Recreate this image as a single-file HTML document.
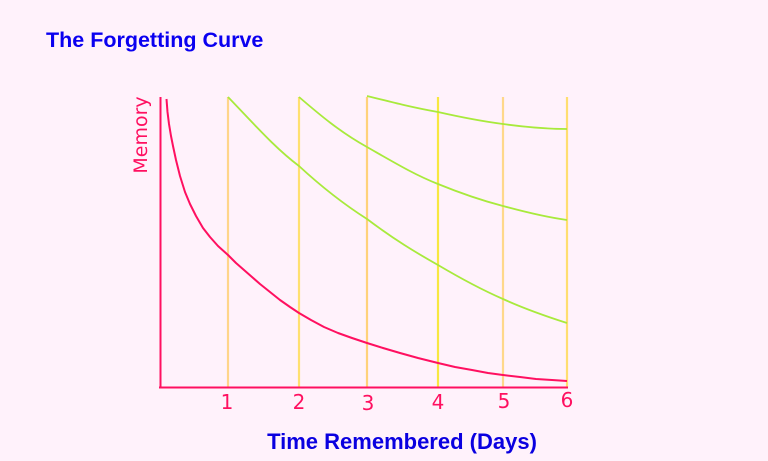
<!DOCTYPE html>
<html><head><meta charset="utf-8"><style>
html,body{margin:0;padding:0;background:#fff2fb;}
svg{display:block}
</style></head><body>
<svg width="768" height="461" viewBox="0 0 768 461" xmlns="http://www.w3.org/2000/svg">
<rect width="768" height="461" fill="#fff2fb"/>
<text x="46" y="47" font-family="Liberation Sans, sans-serif" font-weight="bold" font-size="21.5" fill="#0a00f0">The Forgetting Curve</text>
<g stroke-width="2.2">
<line x1="228" y1="97" x2="228" y2="387" stroke="#ffd58a"/>
<line x1="299" y1="97" x2="299" y2="387" stroke="#ffe070"/>
<line x1="367" y1="97" x2="367" y2="387" stroke="#ffd27a"/>
<line x1="438" y1="97" x2="438" y2="387" stroke="#f8e840"/>
<line x1="503" y1="97" x2="503" y2="387" stroke="#ffd88a"/>
<line x1="567" y1="97" x2="567" y2="387" stroke="#ffde70"/>
</g>
<g fill="none" stroke="#a8ea3c" stroke-width="1.8">
<path d="M228,97 C255,125 275,148 299,166 C325,190 345,205 367,219 C395,240 415,252 438,265 C460,278 480,289 503,299 C525,309 545,316 567,323"/>
<path d="M299,97 C320,115 340,132 367,147 C395,163 415,175 438,184 C460,193 480,200 503,206 C525,212 545,217 567,220"/>
<path d="M367,96 C395,103 415,108 438,112 C460,117 480,121 503,124 C525,127 545,129 567,129"/>
</g>
<polyline points="166.5,99 167.5,112 169,124 171,136 173,146 176,160 180,176 185,192 190,204 196,216 203,228 210,237 218,246 228,255 236,263 244,270 252,277 260,284 270,292 280,300 290,307 299,313 311,320 324,327 338,333 352,338 367,343 383,348 400,353 418,358 438,363 455,367 472,370 488,373 503,375 520,377 536,379 552,380 567,381" fill="none" stroke="#ff1060" stroke-width="2" stroke-linejoin="round"/>
<line x1="160.5" y1="97" x2="160.5" y2="388" stroke="#ff1060" stroke-width="2"/>
<line x1="159" y1="387.5" x2="568" y2="387.5" stroke="#ff1060" stroke-width="2"/>
<g font-family="DejaVu Sans, sans-serif" font-size="20" fill="#ff1060" text-anchor="middle">
<text x="227" y="409">1</text>
<text x="299" y="409">2</text>
<text x="368" y="410">3</text>
<text x="438" y="409">4</text>
<text x="504" y="408">5</text>
<text x="567" y="407">6</text>
<text transform="translate(147,135) rotate(-90)" font-size="19">Memory</text>
</g>
<text x="402" y="449" font-family="Liberation Sans, sans-serif" font-weight="bold" font-size="22" fill="#0a00e0" text-anchor="middle">Time Remembered (Days)</text>
</svg>
</body></html>
